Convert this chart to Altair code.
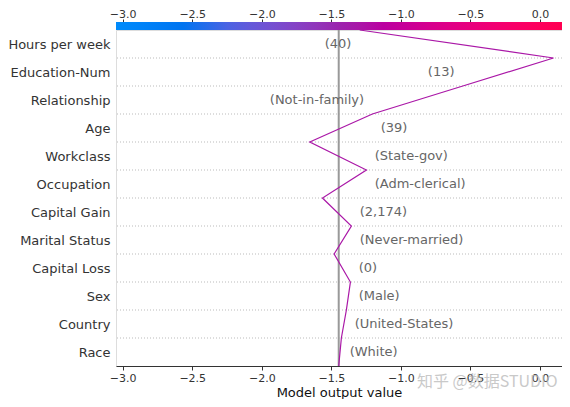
import json
import altair as alt
import numpy as np
import pandas as pd

# ---------------- data ----------------
features = ["Race", "Country", "Sex", "Capital Loss", "Marital Status",
            "Capital Gain", "Occupation", "Workclass", "Age", "Relationship",
            "Education-Num", "Hours per week"]
feature_values = ["White", "United-States", "Male", "0", "Never-married",
                  "2,174", "Adm-clerical", "State-gov", "39", "Not-in-family",
                  "13", "40"]
base_value = -1.447
# model output after each feature's contribution is added (bottom -> top)
cum_output = [-1.428, -1.392, -1.363, -1.480, -1.356, -1.564,
              -1.248, -1.655, -1.205, -0.555, 0.097, -1.296]
x_limits = [-3.048, 0.158]
x_ticks = [-3.0, -2.5, -2.0, -1.5, -1.0, -0.5, 0.0]
x_title = "Model output value"
watermark = "知乎 @数据STUDIO"

W, H, CB_H = 446, 336, 8
FONT = "DejaVu Sans"


# ---------------- shap red_blue colormap (LCH interpolation) ----------------
def lch_to_hex(l, c, h):
    a, b = c * np.cos(h), c * np.sin(h)
    fy = (l + 16) / 116
    fx, fz = fy + a / 500, fy - b / 200

    def finv(t):
        return t ** 3 if t > 6 / 29 else 3 * (6 / 29) ** 2 * (t - 4 / 29)

    X, Y, Z = 0.95047 * finv(fx), finv(fy), 1.08883 * finv(fz)
    rl = 3.2406 * X - 1.5372 * Y - 0.4986 * Z
    gl = -0.9689 * X + 1.8758 * Y + 0.0415 * Z
    bl = 0.0557 * X - 0.2040 * Y + 1.0570 * Z

    def gam(u):
        u = min(max(u, 0.0), 1.0)
        return 12.92 * u if u <= 0.0031308 else 1.055 * u ** (1 / 2.4) - 0.055

    return "#%02x%02x%02x" % tuple(int(round(gam(u) * 255)) for u in (rl, gl, bl))


def red_blue(p):
    j = p * 99
    l = 54 + (40 - 54) * j / 49 if j <= 49 else 40 + (54 - 40) * (j - 50) / 49
    if 49 < j < 50:
        l = 40
    c = 70 + 20 * p
    h = 4.6588 + ((0.35470565 + 2 * np.pi) - 4.6588) * p
    return lch_to_hex(l, c, h)


stops = [alt.GradientStop(color=red_blue(p), offset=float(p)) for p in np.linspace(0, 1, 21)]
line_color = red_blue((cum_output[-1] - x_limits[0]) / (x_limits[1] - x_limits[0]))

# ---------------- tables ----------------
path = [base_value] + cum_output
line_df = pd.DataFrame({"x": path, "y": list(range(len(path)))})
grid_df = pd.DataFrame({"y": list(range(1, len(features)))})
base_df = pd.DataFrame({"x": [base_value]})

px_per_unit = W / (x_limits[1] - x_limits[0])
char_px = 7.2
left_rows, right_rows = [], []
for i, v in enumerate(feature_values):
    txt = "(%s)" % v
    lo, hi = min(path[i], path[i + 1]), max(path[i], path[i + 1])
    width_units = (len(txt) + 2) * char_px / px_per_unit
    if hi + width_units <= x_limits[1]:
        left_rows.append({"x": hi, "y": i + 0.5, "t": txt})
    else:
        right_rows.append({"x": lo, "y": i + 0.5, "t": txt})
left_df = pd.DataFrame(left_rows)
right_df = pd.DataFrame(right_rows)

# ---------------- scales / axes ----------------
x_scale = alt.Scale(domain=x_limits, nice=False, zero=False)
y_scale = alt.Scale(domain=[0, len(features)], nice=False, zero=False)

x_axis = alt.Axis(values=x_ticks, format=".1f", title=x_title, grid=False,
                  domainColor="#333333", tickColor="#333333", tickSize=4,
                  labelColor="#333333", labelFontSize=11, labelPadding=2,
                  titleFontSize=13, titleFontWeight="normal", titleColor="#111111",
                  titlePadding=3, labelFont=FONT, titleFont=FONT)
names_js = json.dumps(features)
y_axis = alt.Axis(values=[i + 0.5 for i in range(len(features))],
                  labelExpr=f"{names_js}[floor(datum.value)]",
                  domain=False, ticks=False, grid=False, title=None,
                  labelFontSize=13, labelColor="#333333", labelPadding=6,
                  labelFont=FONT)

X = alt.X("x:Q", scale=x_scale, axis=x_axis)
Y = alt.Y("y:Q", scale=y_scale, axis=y_axis)

# ---------------- colorbar (sits just above the plot area) ----------------
cb_df = pd.DataFrame({"x0": [x_limits[0]], "x1": [x_limits[1]]})
colorbar = alt.Chart(cb_df).mark_rect(
    fill=alt.LinearGradient(gradient="linear", stops=stops, x1=0, x2=1, y1=0, y2=0)
).encode(
    x=alt.X("x0:Q", scale=x_scale,
            axis=alt.Axis(orient="top", values=x_ticks, format=".1f", title=None,
                          offset=CB_H, domain=False, grid=False, tickSize=3,
                          tickColor="#333333", labelColor="#333333",
                          labelFontSize=11, labelPadding=0, labelFont=FONT)),
    x2="x1:Q",
    y=alt.value(-CB_H),
    y2=alt.value(0),
)

# ---------------- main panel ----------------
base_rule = alt.Chart(base_df).mark_rule(color="#999999", strokeWidth=2).encode(x=X)
grid = alt.Chart(grid_df).mark_rule(color="#aaaaaa", strokeDash=[1, 2],
                                    strokeWidth=0.8).encode(y=Y)
line = alt.Chart(line_df).mark_line(color=line_color, strokeWidth=1.2).encode(
    x=X, y=Y, order="y:Q")
txt_left = alt.Chart(left_df).mark_text(align="left", baseline="middle", dx=8.3,
                                        fontSize=13, color="#666666", font=FONT).encode(
    x=X, y=Y, text="t:N")
txt_right = alt.Chart(right_df).mark_text(align="right", baseline="middle", dx=-8.3,
                                          fontSize=13, color="#666666", font=FONT).encode(
    x=X, y=Y, text="t:N")
wm = alt.Chart(pd.DataFrame({"t": [watermark]})).mark_text(
    align="left", baseline="middle", fontSize=16, font="Noto Sans CJK SC",
    color="#b8b8b8", opacity=0.75).encode(text="t:N", x=alt.value(301), y=alt.value(352))

main = alt.layer(base_rule, grid, line, txt_left, txt_right, wm)

chart = alt.layer(colorbar, main).resolve_scale(x="independent").resolve_axis(
    x="independent").properties(
    width=W, height=H,
    autosize=alt.AutoSizeParams(type="none"),
    padding={"left": 108, "top": 22, "right": 0, "bottom": 33},
).configure_view(stroke=None).configure(font=FONT)

chart.save("out.html", embed_options={"renderer": "svg", "actions": False})
